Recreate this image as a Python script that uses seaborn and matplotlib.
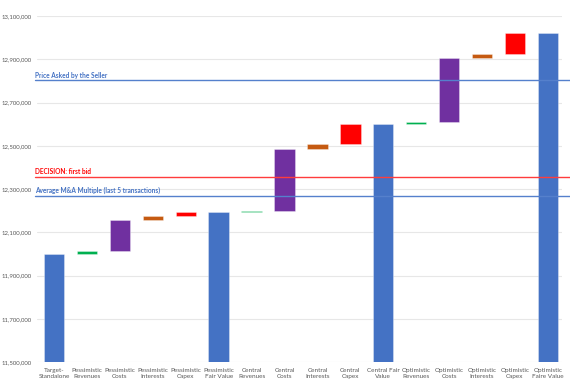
import matplotlib
matplotlib.use("Agg")
import matplotlib.pyplot as plt
import seaborn as sns
import numpy as np
from matplotlib.ticker import FuncFormatter

categories = ["Target-\nStandalone", "Pessimistic\nRevenues", "Pessimistic\nCosts",
              "Pessimistic\nInterests", "Pessimistic\nCapex", "Pessimistic\nFair Value",
              "Central\nRevenues", "Central\nCosts", "Central\nInterests", "Central\nCapex",
              "Central Fair\nValue", "Optimistic\nRevenues", "Optimistic\nCosts",
              "Optimistic\nInterests", "Optimistic\nCapex", "Optimistic\nFaire Value"]
# waterfall: bar bottoms and tops
bottoms = [11500000, 12000000, 12011000, 12155000, 12173000, 11500000,
           12195000, 12200000, 12484000, 12507000, 11500000,
           12600000, 12610000, 12904000, 12924000, 11500000]
tops = [12000000, 12011000, 12155000, 12173000, 12195000, 12195000,
        12200000, 12484000, 12507000, 12600000, 12600000,
        12610000, 12904000, 12924000, 13020000, 13020000]
kinds = ["total", "rev", "cost", "int", "capex", "total",
         "rev", "cost", "int", "capex", "total",
         "rev", "cost", "int", "capex", "total"]
ref_labels = ["Price Asked by the Seller", "DECISION: first bid",
              "Average M&A Multiple (last 5 transactions)"]
ref_values = [12803000, 12355000, 12268000]
ref_text_colors = ["#4472C4", "#FF0000", "#4472C4"]
ref_line_colors = ["#5580CC", "#FF3C3C", "#5580CC"]

kind_colors = {"total": "#4472C4", "rev": "#00B050", "cost": "#7030A0",
               "int": "#C55A11", "capex": "#FF0000"}

sns.set_theme(style="white")
plt.rcParams['font.family'] = ['Lato', 'DejaVu Sans']

fig = plt.figure(figsize=(5.7, 3.8), dpi=100)
ax = fig.add_axes([37/570, 1 - 362/380, (562 - 37)/570, (362 - 16)/380])

heights = np.array(tops) - np.array(bottoms)
sns.barplot(x=categories, y=heights, bottom=bottoms, ax=ax, width=0.62,
            color="#4472C4", edgecolor=(1, 1, 1, 0.45), linewidth=0.5, zorder=3)
for patch, k in zip(ax.patches, kinds):
    patch.set_facecolor(kind_colors[k])

ax.set_ylim(11500000, 13100000)
ax.set_xlim(-0.52, len(categories) - 0.57)
ax.set_yticks(np.arange(11500000, 13100001, 200000))
ax.yaxis.set_major_formatter(FuncFormatter(lambda v, p: f"{int(v):,}"))
ax.grid(axis="y", color="#E7E7E7", linewidth=0.8, zorder=0)
ax.set_axisbelow(True)
for s in ax.spines.values():
    s.set_visible(False)
ax.tick_params(axis="y", labelsize=4.3, colors="#595959", length=0, pad=4)
ax.tick_params(axis="x", labelsize=4.6, colors="#595959", length=0, pad=4.5)
ax.set_xlabel("")
ax.set_ylabel("")

for lab, val, tcol, lcol in zip(ref_labels, ref_values, ref_text_colors, ref_line_colors):
    ax.axhline(val, xmin=-0.004, xmax=1.016, color=lcol, linewidth=1.0,
               clip_on=False, zorder=4)
    ax.annotate(lab, xy=(-0.004, val), xycoords=ax.get_yaxis_transform(),
                xytext=(0, 1.2), textcoords="offset points", ha="left", va="bottom",
                fontsize=4.7, fontweight="bold", color=tcol, zorder=5)

fig.savefig("out.png", dpi=100)
